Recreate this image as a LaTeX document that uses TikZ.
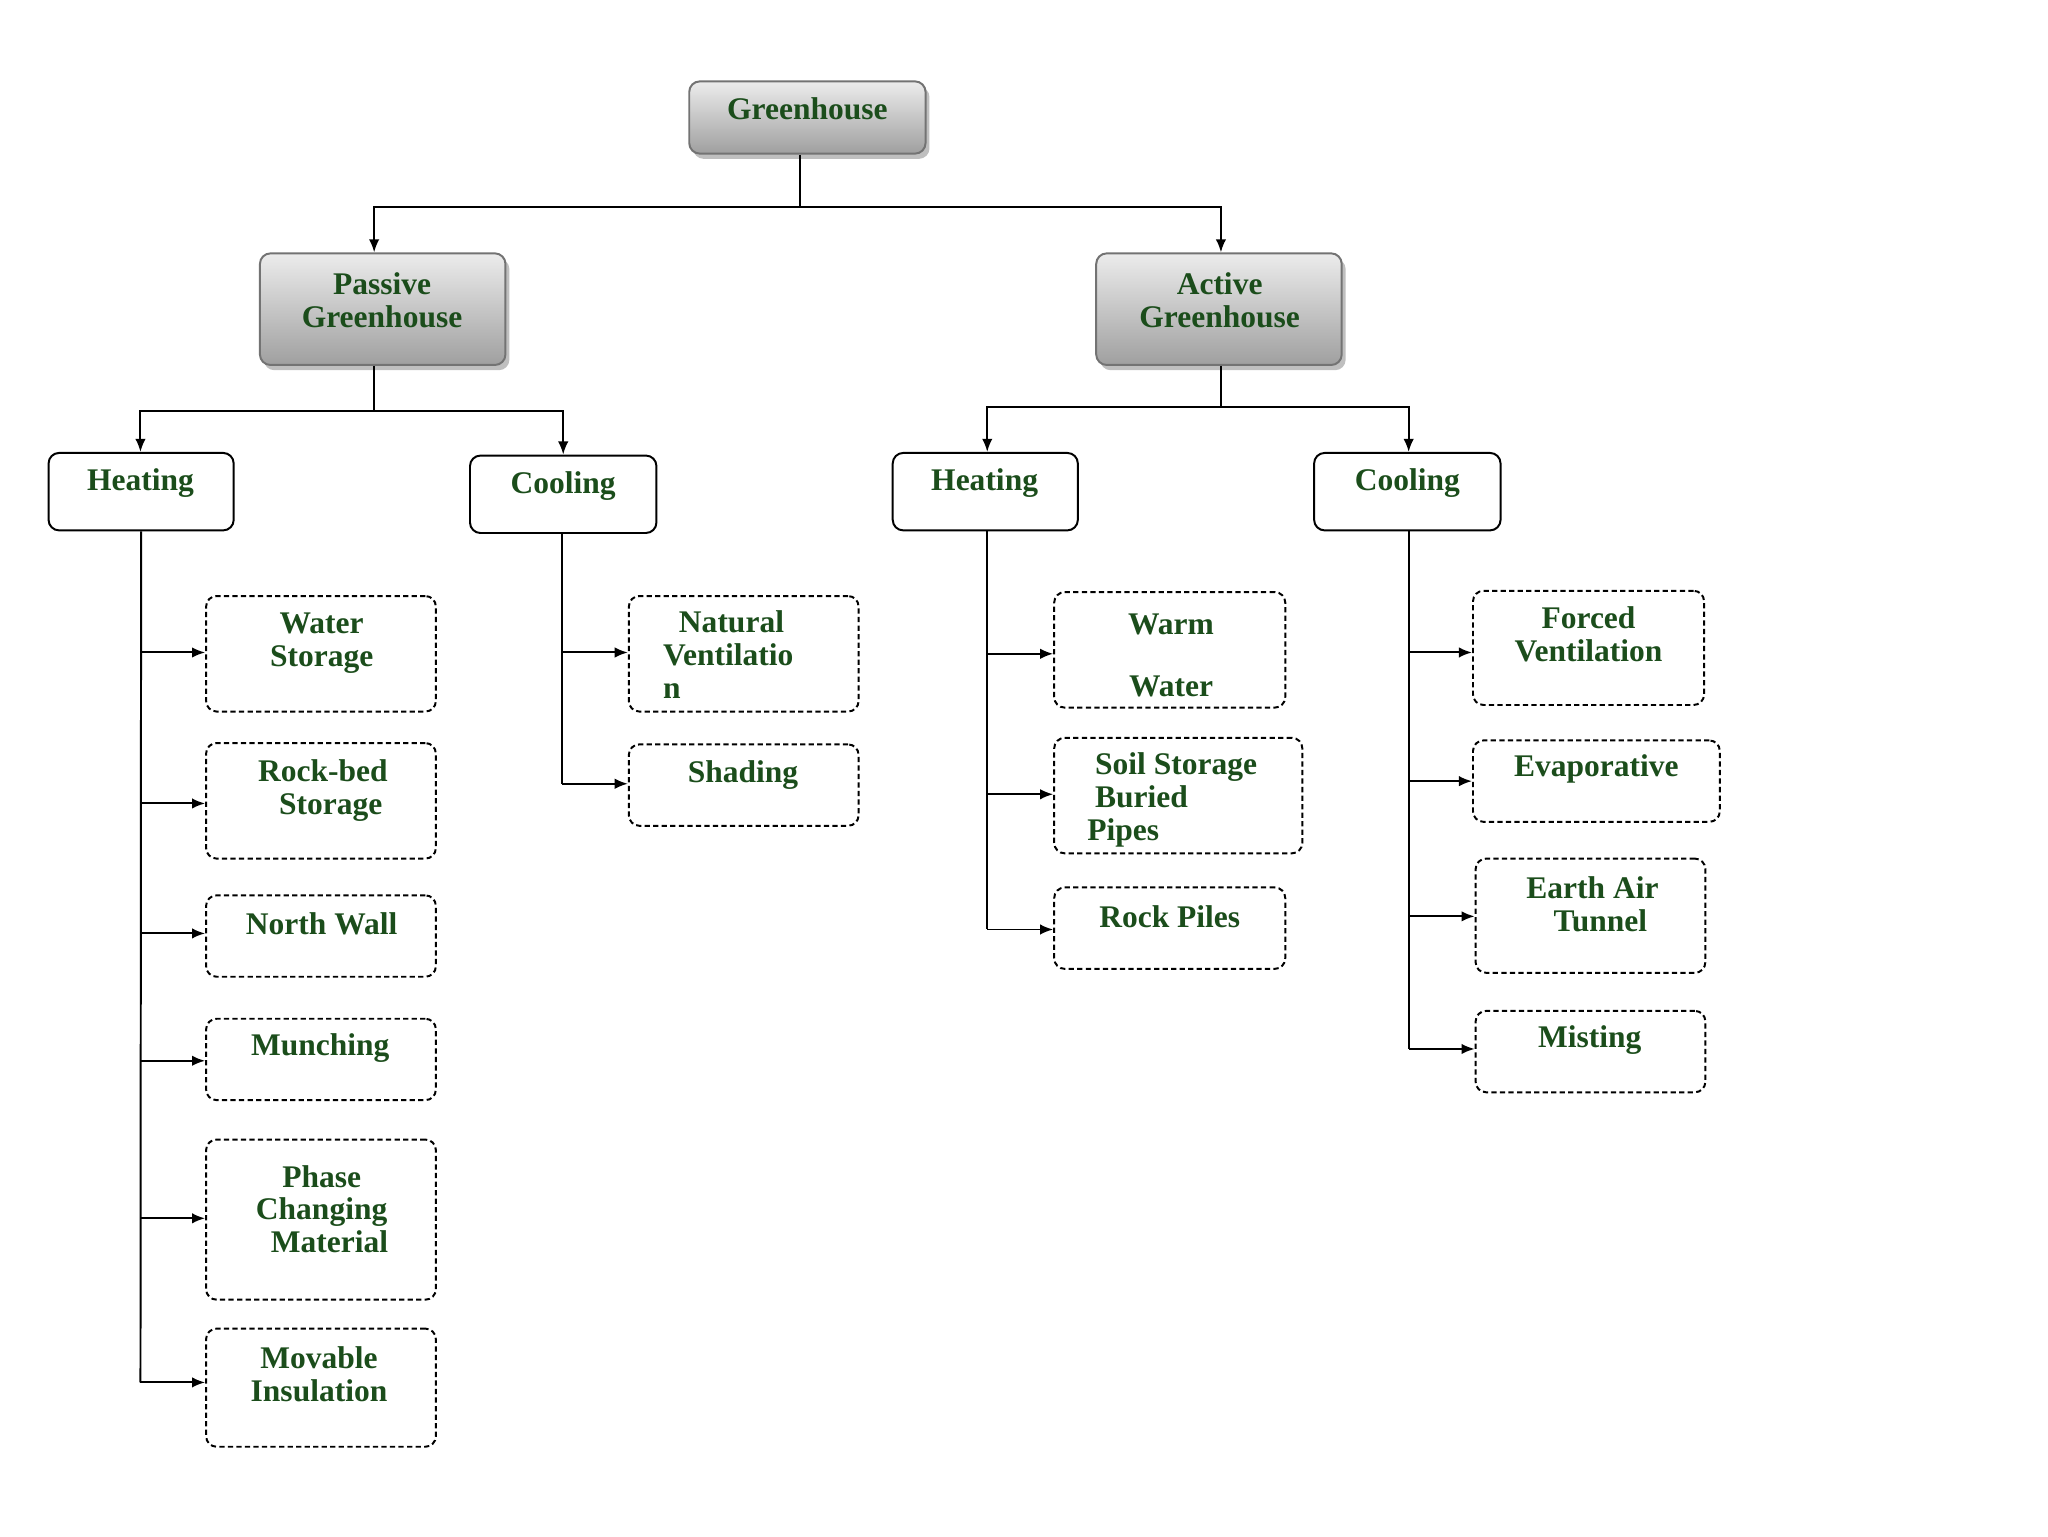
\documentclass[tikz,border=0pt]{standalone}
\usepackage{fontspec}
\setmainfont{Liberation Serif}
\usetikzlibrary{arrows.meta,shadows}
\definecolor{tg}{HTML}{1B4D1B}
\newcommand\bx[6]{\node[#6,minimum width={#3-#2},minimum height={#5-#4}] (#1) at ({(#2+#3)/2},{(#4+#5)/2}) {};}
\newcommand\tx[4]{\node[txt,align=#4] (#1) at (#2) {#3};}
\begin{document}
\begin{tikzpicture}[x=1pt,y=-1pt,
  txt/.style={font=\fontsize{24}{25}\selectfont\bfseries,text=tg,inner sep=0pt},
  gbox/.style={draw=black!55,line width=1.5pt,rounded corners=8pt,top color=gray!15,bottom color=gray!75,drop shadow={shadow xshift=3pt,shadow yshift=-4pt,fill=black!25,opacity=1}},
  sbox/.style={draw=black,line width=1.5pt,rounded corners=8pt,fill=white},
  dbox/.style={draw=black,line width=1.5pt,rounded corners=8pt,dashed,dash pattern=on 4pt off 2.5pt},
  ln/.style={line width=1.5pt},
  ar/.style={line width=1.5pt,-{Latex[length=10pt,width=8pt]}}]
\useasboundingbox (0,0) rectangle (1560,1170);
% gray boxes
\bx{gh}{525}{705}{62}{117}{gbox}
\bx{pg}{198}{385}{193}{278}{gbox}
\bx{ag}{835}{1022}{193}{278}{gbox}
\tx{ght}{615,83}{Greenhouse}{center}
\tx{pgt}{291,229}{Passive\\Greenhouse}{center}
\tx{agt}{929,229}{Active\\Greenhouse}{center}
% level 2
\bx{hl}{37}{178}{345}{404}{sbox}
\bx{cl}{358}{500}{347}{406}{sbox}
\bx{hr}{680}{821}{345}{404}{sbox}
\bx{cr}{1001}{1143}{345}{404}{sbox}
\tx{hlt}{107,368}{Heating}{center}
\tx{clt}{429,370}{Cooling}{center}
\tx{hrt}{750,368}{Heating}{center}
\tx{crt}{1072,368}{Cooling}{center}
% top connectors
\coordinate (j1) at (609,158);
\coordinate (j1l) at (285,158);
\coordinate (j1r) at (930,158);
\draw[ln] (gh.south -| j1) -- (j1);
\draw[ar] (j1) -- (j1l) -- (pg.north -| j1l);
\draw[ar] (j1) -- (j1r) -- (ag.north -| j1r);
\coordinate (j2) at (285,313);
\coordinate (j2l) at (107,313);
\coordinate (j2r) at (429,313);
\draw[ln] (pg.south -| j2) -- (j2);
\draw[ar] (j2) -- (j2l) -- (hl.north -| j2l);
\draw[ar] (j2) -- (j2r) -- (cl.north -| j2r);
\coordinate (j3) at (930,310);
\coordinate (j3l) at (752,310);
\coordinate (j3r) at (1073,310);
\draw[ln] (ag.south -| j3) -- (j3);
\draw[ar] (j3) -- (j3l) -- (hr.north -| j3l);
\draw[ar] (j3) -- (j3r) -- (cr.north -| j3r);
% leaves passive heating
\bx{l1}{157}{332}{454}{542}{dbox}
\bx{l2}{157}{332}{566}{654}{dbox}
\bx{l3}{157}{332}{682}{744}{dbox}
\bx{l4}{157}{332}{776}{838}{dbox}
\bx{l5}{157}{332}{868}{990}{dbox}
\bx{l6}{157}{332}{1012}{1102}{dbox}
\tx{l1t}{245,490}{Water\\Storage}{center}
\tx{l2t}{246,602}{Rock-bed\\\ \ Storage}{center}
\tx{l3t}{245,704}{North Wall}{center}
\tx{l4t}{244,798}{Munching}{center}
\tx{l5t}{245,921}{Phase\\Changing\\\ \ Material}{center}
\tx{l6t}{243,1047}{Movable\\Insulation}{center}
\coordinate (s1) at (107,1053);
\draw[ln] (hl.south) -- (s1);
\foreach \n/\y in {l1/497,l2/612,l3/711,l4/808,l5/928,l6/1053}
  \draw[ar] (107,\y) -- (\n.west |- 0,\y);
% passive cooling
\bx{c1}{479}{654}{454}{542}{dbox}
\bx{c2}{479}{654}{567}{629}{dbox}
\node[txt,align=left,anchor=north west] (c1t) at (505,465) {\ \ Natural\\Ventilatio\\n};
\tx{c2t}{566,590}{Shading}{center}
\coordinate (s2) at (428,597);
\draw[ln] (cl.south -| s2) -- (s2);
\foreach \n/\y in {c1/497,c2/597}
  \draw[ar] (428,\y) -- (\n.west |- 0,\y);
% active heating
\bx{h1}{803}{979}{451}{539}{dbox}
\bx{h2}{803}{992}{562}{650}{dbox}
\bx{h3}{803}{979}{676}{738}{dbox}
\tx{h1t}{892,499}{Warm\\[22pt]Water}{center}
\node[txt,align=left,anchor=north west] (h2t) at (828,573) {\ Soil Storage\\\ Buried\\Pipes};
\tx{h3t}{891,698}{Rock Piles}{center}
\coordinate (s3) at (752,708);
\draw[ln] (hr.south -| s3) -- (s3);
\foreach \n/\y in {h1/498,h2/605,h3/708}
  \draw[ar] (752,\y) -- (\n.west |- 0,\y);
% active cooling
\bx{k1}{1122}{1298}{450}{537}{dbox}
\bx{k2}{1122}{1310}{564}{626}{dbox}
\bx{k3}{1124}{1299}{654}{741}{dbox}
\bx{k4}{1124}{1299}{770}{832}{dbox}
\tx{k1t}{1210,483}{Forced\\Ventilation}{center}
\tx{k2t}{1216,586}{Evaporative}{center}
\tx{k3t}{1213,689}{Earth Air\\\ \ Tunnel}{center}
\tx{k4t}{1211,792}{Misting}{center}
\coordinate (s4) at (1073,799);
\draw[ln] (cr.south -| s4) -- (s4);
\foreach \n/\y in {k1/497,k2/595,k3/698,k4/799}
  \draw[ar] (1073,\y) -- (\n.west |- 0,\y);
\end{tikzpicture}
\end{document}
